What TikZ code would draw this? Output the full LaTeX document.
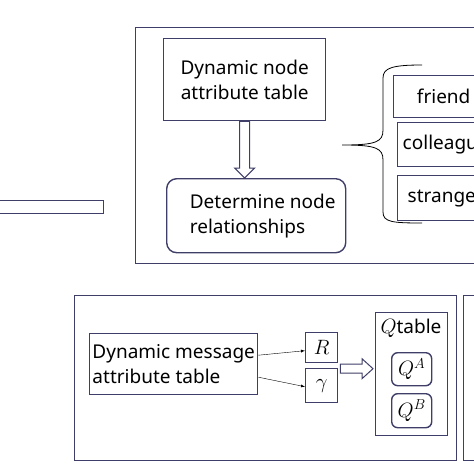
\documentclass[tikz,border=0pt]{standalone}
\usepackage{fontspec}
\setmainfont{Noto Sans}
\usepackage{tikz}
\usetikzlibrary{calc}
\definecolor{framecol}{RGB}{62,62,104}

\begin{document}
\begin{tikzpicture}[x=1pt,y=-1pt,
    frame/.style={draw=framecol,line width=1.4pt,inner sep=0pt,anchor=north west},
    box/.style={frame,font=\fontsize{19}{25}\selectfont,align=center},
    rbox/.style={box,rounded corners=10pt},
    link/.style={->,>=latex,thin,black},
    hollow/.style={draw=framecol,line width=1pt,fill=white},
    ]
	\useasboundingbox (0,0) rectangle (474,474);
	\clip (0,0) rectangle (474,474);
	% frames
	\node[frame,minimum width=120,minimum height=13] (bar) at (-17,200) {};
	\node[frame,minimum width=370,minimum height=236] (upper) at (135,27) {};
	\node[frame,minimum width=382,minimum height=165] (lower) at (74,295) {};
	\node[frame,minimum width=80,minimum height=165] (side) at (463,295) {};
	% upper part
	\node[box,minimum width=162,minimum height=82] (dnat) at (163,38) {Dynamic node\\attribute table};
	\node[rbox,minimum width=179,minimum height=74,align=left] (rel) at (166,178)
		{\hspace*{13pt}Determine node\\\hspace*{13pt}relationships};
	\node[box,minimum width=100,minimum height=42] (friend) at (393,75) {friend};
	\node[box,minimum width=96,minimum height=44] (colleague) at (397,122) {colleague};
	\node[box,minimum width=96,minimum height=45] (stranger) at (397,175) {stranger};
	\draw[hollow] ($(dnat.south)+(-5,0)$) -- ($(dnat.south)+(5,0)$)
		-- ($(dnat.south |- rel.north)+(5,-10)$) -- ($(dnat.south |- rel.north)+(10,-10)$)
		-- (dnat.south |- rel.north) -- ($(dnat.south |- rel.north)+(-10,-10)$)
		-- ($(dnat.south |- rel.north)+(-5,-10)$) -- cycle;
	\coordinate (tip) at (342,145);
	\draw[black,line width=0.8pt] (422,65) .. controls (392,65) and (383,68) .. (383,78)
		-- (383,130) .. controls (383,142) and (376,145) .. (tip)
		.. controls (376,145) and (383,148) .. (383,160)
		-- (383,212) .. controls (383,222) and (392,223) .. (422,223);
	% lower part
	\node[box,minimum width=168,minimum height=61,align=left] (msg) at (89,333)
		{Dynamic message\\attribute table};
	\node[box,minimum width=32,minimum height=30,font=\fontsize{22}{25}\selectfont] (R) at (305,332) {$R$};
	\node[box,minimum width=32,minimum height=34,font=\fontsize{22}{25}\selectfont] (gamma) at (305,368) {$\gamma$};
	\node[frame,minimum width=72,minimum height=123] (qtab) at (375,312) {};
	\node[font=\fontsize{19}{25}\selectfont,inner sep=0pt] (qlabel) at (411,328) {\fontsize{21}{25}\selectfont$Q$\fontsize{19}{25}\selectfont table};
	\node[rbox,rounded corners=6pt,minimum width=40,minimum height=33,font=\fontsize{21}{25}\selectfont] (qa) at (391,352) {$Q^A$};
	\node[rbox,rounded corners=6pt,minimum width=40,minimum height=34,font=\fontsize{21}{25}\selectfont] (qb) at (391,393) {$Q^B$};
	\draw[link] ($(msg.east)+(0,-9)$) -- ($(R.west)+(0,3)$);
	\draw[link] ($(msg.east)+(0,13)$) -- ($(gamma.west)+(0,1)$);
	\coordinate (s) at ($(R.south east)!0.5!(gamma.north east)+(2,3)$);
	\draw[hollow] ($(s)+(0,-4.5)$) -- ($(s -| qtab.west)+(-13,-4.5)$)
		-- ($(s -| qtab.west)+(-13,-10)$) -- ($(s -| qtab.west)+(-2,0)$)
		-- ($(s -| qtab.west)+(-13,10)$) -- ($(s -| qtab.west)+(-13,4.5)$)
		-- ($(s)+(0,4.5)$) -- cycle;
\end{tikzpicture}
\end{document}
